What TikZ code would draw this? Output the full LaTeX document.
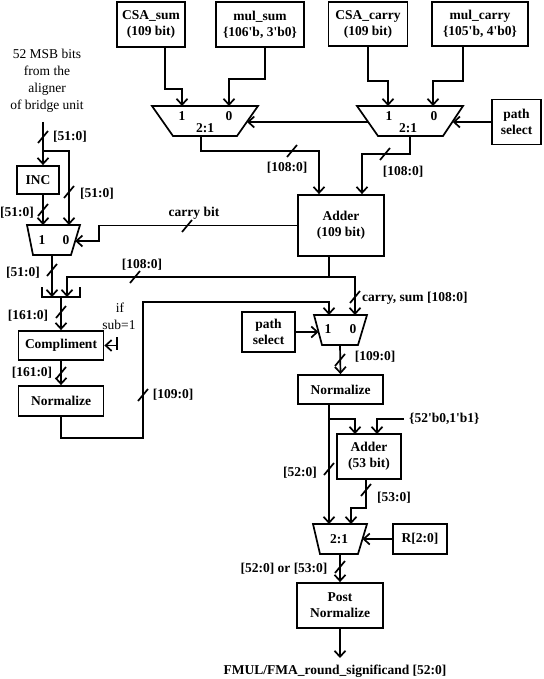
\documentclass[tikz,border=0pt]{standalone}
\usepackage{fontspec}
\setmainfont{Liberation Serif}[Ligatures=TeXOff]
\usetikzlibrary{arrows.meta,calc}
\newcommand\mkmux[7]{%
  \coordinate (#1-tl) at (#2,#6); \coordinate (#1-tr) at (#3,#6);
  \coordinate (#1-br) at (#4,#7); \coordinate (#1-bl) at (#5,#7);
  \draw[wire,line join=miter] (#1-tl)--(#1-tr)--(#1-br)--(#1-bl)--cycle;}
\begin{document}
\begin{tikzpicture}[x=1pt,y=-1pt,
  every node/.style={font=\fontsize{13.5}{16}\selectfont\bfseries},
  box/.style={draw,line width=1.8pt,align=center,inner sep=0pt},
  wire/.style={line width=1.7pt},
  arr/.style={wire,-{Straight Barb[length=6pt,width=11pt]}},
  lbl/.style={inner sep=1pt},
  plain/.style={font=\fontsize{13.5}{17}\selectfont\mdseries,align=center},
  slash/.pic={\draw[line width=1.7pt] (-5,6)--(5,-6);}]
\fill[white] (0,0) rectangle (543,679);
\useasboundingbox (0,0) rectangle (543,679);

% boxes
\node[box,minimum width=68pt,minimum height=45pt] (csasum) at (151,24.5) {CSA\_sum\\(109 bit)};
\node[box,minimum width=88pt,minimum height=45pt] (mulsum) at (260,24.5) {mul\_sum\\\{106'b, 3'b0\}};
\node[box,minimum width=79pt,minimum height=44pt] (csacarry) at (368,24) {CSA\_carry\\(109 bit)};
\node[box,minimum width=96pt,minimum height=44pt] (mulcarry) at (480,24) {mul\_carry\\\{105'b, 4'b0\}};
\node[box,minimum width=49pt,minimum height=45pt] (ps1) at (516.5,122) {path\\select};
\node[box,minimum width=86pt,minimum height=61pt] (adder) at (341,225.5) {Adder\\(109 bit)};
\node[box,minimum width=42pt,minimum height=28pt] (inc) at (38,180) {INC};
\node[box,minimum width=85pt,minimum height=29pt] (compl) at (61,345.5) {Compliment};
\node[box,minimum width=85pt,minimum height=30pt] (norm1) at (61,401) {Normalize};
\node[box,minimum width=53pt,minimum height=40pt] (ps2) at (268.5,332) {path\\select};
\node[box,minimum width=85pt,minimum height=29pt] (norm2) at (340.5,389.5) {Normalize};
\node[box,minimum width=64pt,minimum height=45pt] (adder53) at (369,456.5) {Adder\\(53 bit)};
\node[box,minimum width=54pt,minimum height=30pt] (rbox) at (420,539) {R[2:0]};
\node[box,minimum width=86pt,minimum height=45pt] (postnorm) at (340,605.5) {Post\\Normalize};

% muxes
\mkmux{m1}{152}{258}{237}{173}{106}{136}
\mkmux{m2}{357}{463}{443}{378}{106}{136}
\mkmux{m3}{27}{80}{71}{33}{225}{255}
\mkmux{m4}{314}{367}{358}{322}{315}{345}
\mkmux{m5}{313}{367}{358}{320}{524}{554}
\node (m1a) at (182,116) {1}; \node (m1b) at (229,116) {0}; \node (m1c) at (205,128) {2:1};
\node (m2a) at (389,116) {1}; \node (m2b) at (434,116) {0}; \node (m2c) at (408,128) {2:1};
\node (m3a) at (42,240) {1}; \node (m3b) at (66,240) {0};
\node (m4a) at (328,329) {1}; \node (m4b) at (353,329) {0};
\node (m5c) at (339,539) {2:1};

% mux ports
\coordinate (m1-i1) at (182,106); \coordinate (m1-i0) at (229,106);
\coordinate (m1-sel) at (247,122); \coordinate (m1-out) at (201,136);
\coordinate (m2-i1) at (388,106); \coordinate (m2-i0) at (433,106);
\coordinate (m2-sel) at (452.7,122); \coordinate (m2-selL) at (367.9,122);
\coordinate (m2-out) at (410,136);
\coordinate (m3-i1) at (43,225); \coordinate (m3-i0) at (69,225);
\coordinate (m3-sel) at (75.2,241); \coordinate (m3-out) at (52,255);
\coordinate (m4-i1) at (329,315); \coordinate (m4-i0) at (355,315);
\coordinate (m4-sel) at (318.5,332); \coordinate (m4-out) at (340,345);
\coordinate (m5-i1) at (329,524); \coordinate (m5-i0) at (351,524);
\coordinate (m5-sel) at (362.5,539); \coordinate (m5-out) at (340,554);

% concatenation bar
\coordinate (cb-l) at (42,287); \coordinate (cb-r) at (80,287);
\coordinate (cb-i1) at (52,297); \coordinate (cb-i2) at (67,297);
\coordinate (cb-out) at (61,297);
\draw[wire] (cb-l) |- (cb-out) -| (cb-r);

% other coordinates
\coordinate (src) at (43,122);
\coordinate (j4) at (43,151);
\coordinate (cbk) at (99,241);
\coordinate (j1) at (329,277);
\coordinate (j2) at (143,438);
\coordinate (j3) at (329,302);
\coordinate (j5) at (329,419);
\coordinate (k) at (404,419);
\coordinate (a53-i1) at (355,434);
\coordinate (a53-i2) at (377,434);
\coordinate (out) at (340,658);
\coordinate (subin) at (117,337);

% connectors: top
\draw[arr] ($(csasum.south)+(14,0)$) -- ++(0,41) -| (m1-i1);
\draw[arr] ($(mulsum.south)+(5,0)$) -- ++(0,31) -| (m1-i0);
\draw[arr] (csacarry.south) -- ++(0,34) -| (m2-i1);
\draw[arr] ($(mulcarry.south)+(-17,0)$) -- ++(0,34) -| (m2-i0);
\draw[arr] (ps1.west) -- (m2-sel);
\draw[arr] (m2-selL) -- (m1-sel);
\draw[arr] (m1-out) -- ++(0,15) -| ($(adder.north)+(-22,0)$);
\draw[arr] (m2-out) -- ++(0,18) -| ($(adder.north)+(21,0)$);
\pic at (292,151) {slash}; \node[lbl] (l1) at (287,168) {[108:0]};
\pic at (385,154) {slash}; \node[lbl] (l2) at (403,172) {[108:0]};

% carry bit
\draw[arr] (adder.west) -| (cbk) -- (m3-sel);
\pic at (187,226) {slash}; \node[lbl] (l3) at (194,213) {carry bit};

% adder outputs
\draw[wire] ($(adder.south)+(-12,0)$) -- (j1);
\draw[arr] (j1) -| (cb-i2);
\draw[arr] (j1) -| (m4-i0);
\pic at (135,277) {slash}; \node[lbl] (l4) at (142,265) {[108:0]};
\pic at (355,297) {slash}; \node[lbl,anchor=west] (l5) at (361,298) {carry, sum [108:0]};

% left input chain
\node[plain] (srctxt) at (47,80.5) {52 MSB bits\\from the\\aligner\\of bridge unit};
\draw[arr] (src) -- (src |- inc.north);
\draw[arr] (j4) -| (m3-i0);
\pic at (43,137) {slash}; \node[lbl] (l6) at (70,137) {[51:0]};
\pic at (69,192) {slash}; \node[lbl] (l7) at (97,194) {[51:0]};
\draw[arr] (src |- inc.south) -- (m3-i1);
\pic at (43,210) {slash}; \node[lbl] (l8) at (17,213) {[51:0]};
\draw[arr] (m3-out) -- (cb-i1);
\pic at (52,270) {slash}; \node[lbl] (l9) at (23,273) {[51:0]};
\draw[arr] (cb-out) -- (cb-out |- compl.north);
\pic at (61,312) {slash}; \node[lbl] (l10) at (28,316) {[161:0]};
\draw[arr] (compl.south) -- (norm1.north);
\pic at (61,373) {slash}; \node[lbl] (l11) at (32,373) {[161:0]};
\node[plain] (iftxt) at (120,308) {if};
\node[plain] (subtxt) at (119,325) {sub=1};
\draw[wire] (subin) -- ++(0,13);
\draw[arr] (subin |- compl.east) -- (compl.east);

% normalize loop
\draw[arr] (norm1.south) |- (j2) |- (j3) -- (m4-i1);
\pic at (143,395) {slash}; \node[lbl] (l12) at (173,395) {[109:0]};

% middle chain
\draw[arr] (ps2.east) -- (m4-sel);
\draw[arr] (m4-out) -- (norm2.north);
\pic at (340,360) {slash}; \node[lbl] (l13) at (375,357) {[109:0]};
\draw[arr] (m5-i1 |- norm2.south) -- (m5-i1);
\draw[arr] (j5) -| (a53-i1);
\draw[arr] (k) -| (a53-i2);
\node[lbl,anchor=west] (l14) at (408,419) {\{52'b0,1'b1\}};
\pic at (329,469) {slash}; \node[lbl] (l15) at (300,473) {[52:0]};
\draw[arr] ($(adder53.south)+(-3,0)$) -- ++(0,28) -| (m5-i0);
\pic at (366,490) {slash}; \node[lbl] (l16) at (394,498) {[53:0]};
\draw[arr] (rbox.west) -- (m5-sel);
\draw[arr] (m5-out) -- (postnorm.north);
\pic at (340,567) {slash}; \node[lbl] (l17) at (284,569) {[52:0] or [53:0]};
\draw[arr] (postnorm.south) -- (out);
\node[lbl] (l18) at (335,671) {FMUL/FMA\_round\_significand [52:0]};
\end{tikzpicture}
\end{document}
